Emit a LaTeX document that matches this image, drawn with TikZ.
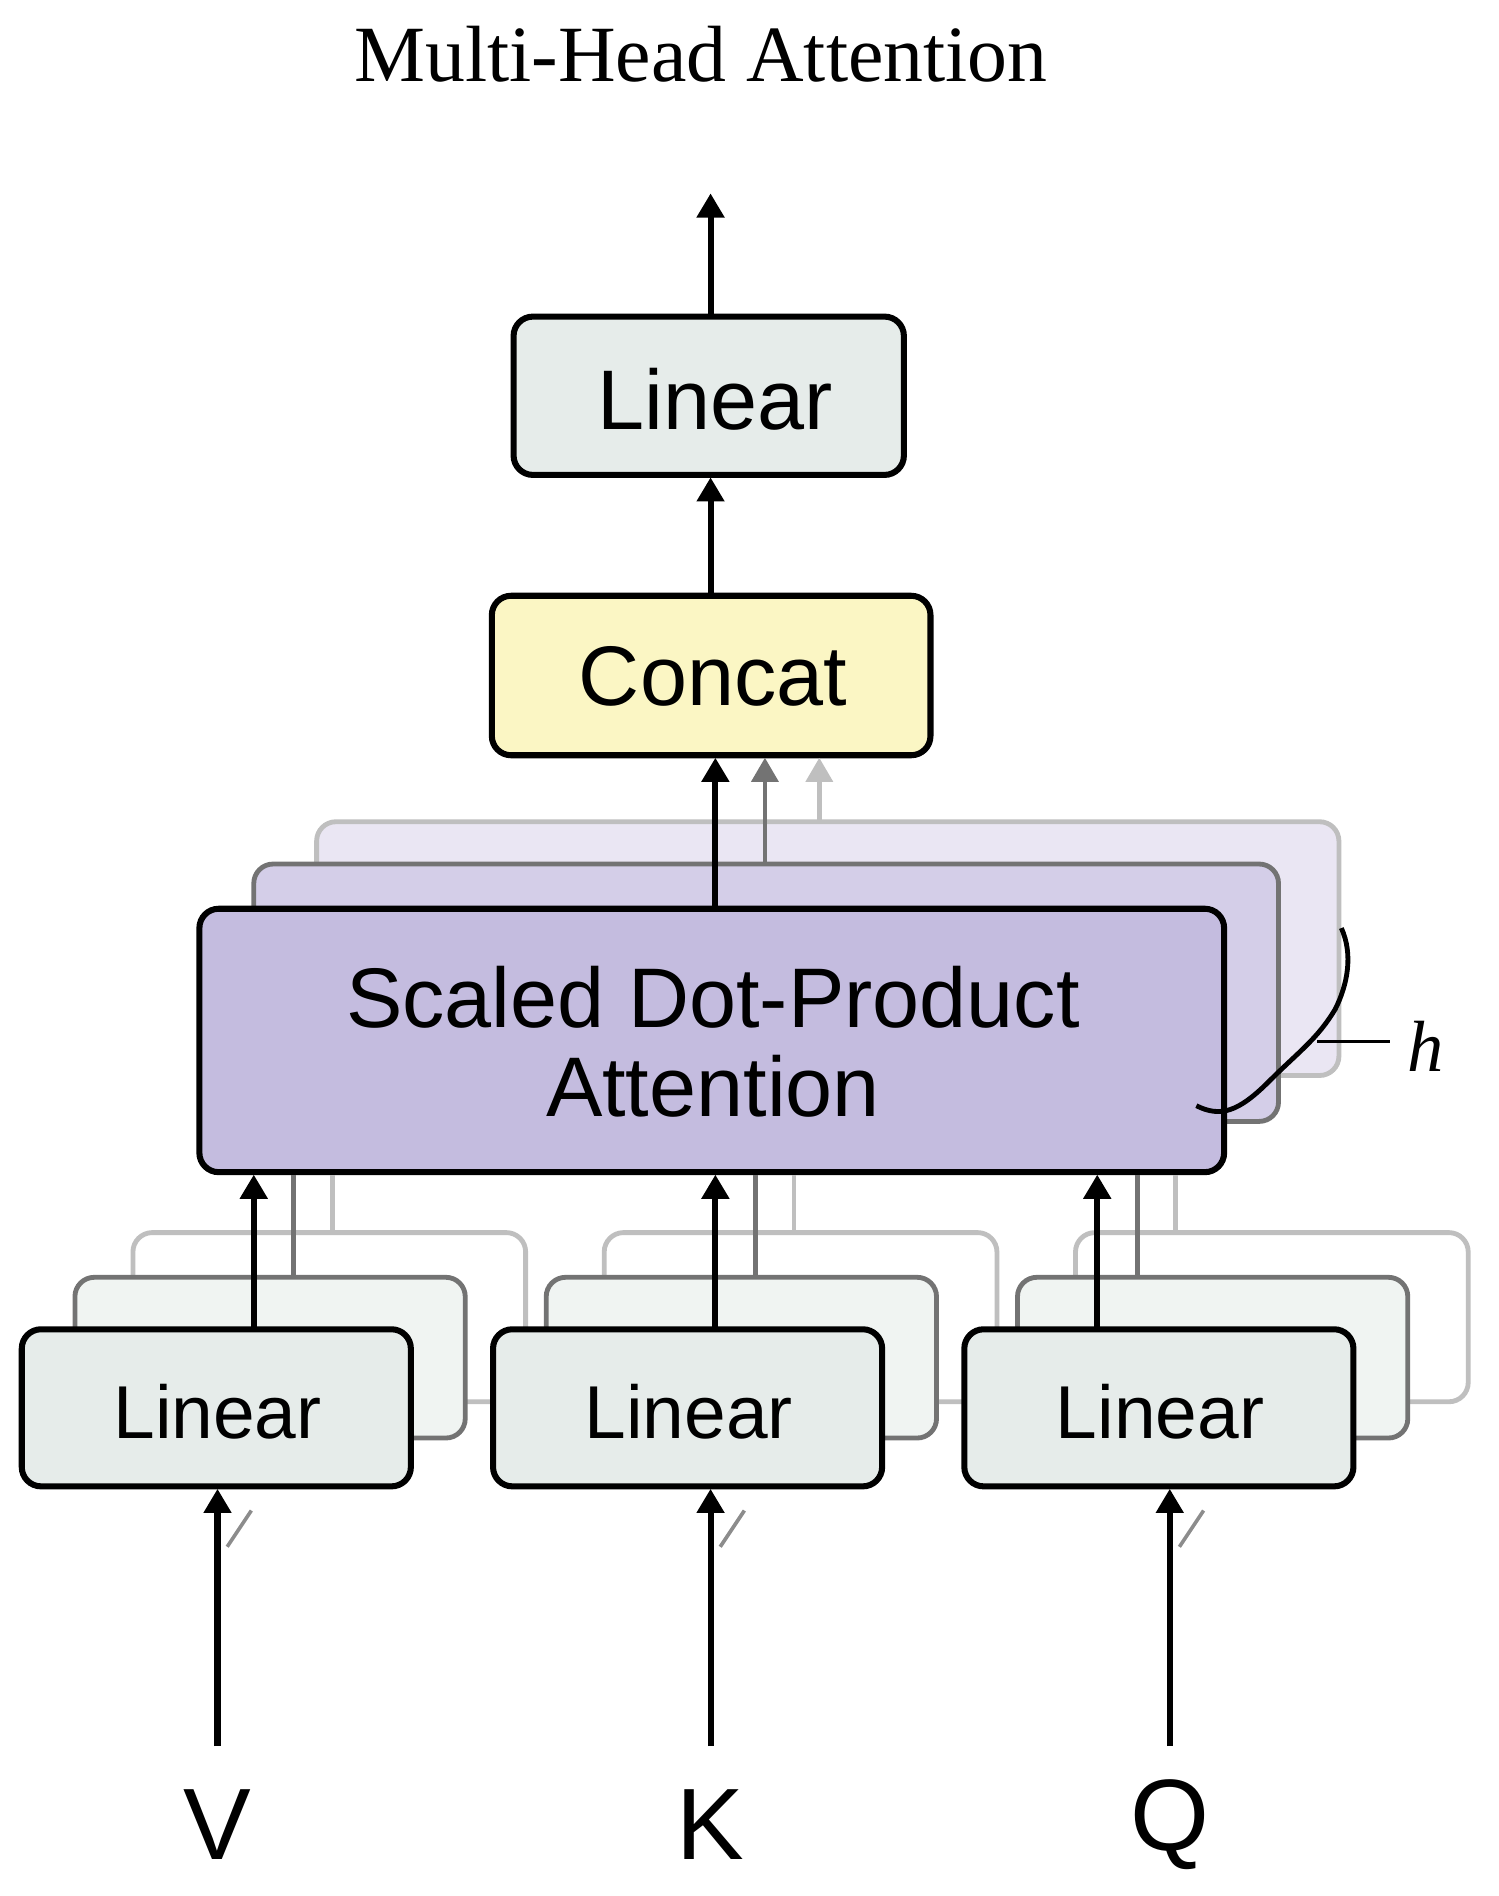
\documentclass[tikz,border=0pt]{standalone}
\usepackage{fontspec}
\setmainfont{Liberation Sans}
\newfontfamily\serifT{Liberation Serif}
\usetikzlibrary{arrows.meta}
\definecolor{lin}{HTML}{E6ECEA}
\definecolor{cat}{HTML}{FBF6C4}
\definecolor{sdp}{HTML}{C4BCDF}
\definecolor{sdpb}{HTML}{D4CEE8}
\begin{document}
\begin{tikzpicture}[x=1pt,y=-1pt,
 box/.style={draw=black,line width=5pt,rounded corners=16pt},
 gbox/.style={draw=black!55,line width=4pt,rounded corners=16pt},
 lbox/.style={draw=black!25,line width=4pt,rounded corners=16pt},
 arr/.style={line width=5pt,-{Triangle[length=20pt,width=22pt]}},
 txt/.style={font=\fontsize{70}{80}\selectfont},
 stxt/.style={font=\fontsize{62}{72}\selectfont}]
\useasboundingbox (0,0) rectangle (1240,1569);
\node[font=\serifT\fontsize{66}{70}\selectfont] (title) at (580,45) {Multi-Head Attention};
% top linear & concat
\draw[box,fill=lin] (425,262) rectangle (748,393);
\node[txt] (lintop) at (592,330) {Linear};
\draw[box,fill=cat] (407,493) rectangle (770,625);
\node[txt] (concat) at (590,560) {Concat};
\coordinate (out) at (588,160);
\draw[arr] (588,262) -- (out);
\draw[arr] (588,493) -- (588,395);
% SDPA stacks
\draw[lbox,fill=sdpb!50] (262,680) rectangle (1108,890);
\draw[gbox,fill=sdpb] (210,715) rectangle (1058,928);
\draw[arr,draw=black!25,line width=4pt] (678,680) -- (678,627);
\draw[arr,draw=black!55,line width=4pt] (633,715) -- (633,627);
\draw[box,fill=sdp] (165,752) rectangle (1013,970);
\node[txt,align=center] (sdpa) at (590,862) {Scaled Dot-Product\\[-6pt]Attention};
\draw[arr] (592,752) -- (592,627);
% brace h
\draw[line width=4pt] (990,915) .. controls (1010,925) and (1025,920) .. (1050,895) .. controls (1075,870) and (1090,860) .. (1105,835) .. controls (1115,815) and (1120,790) .. (1110,768);
\draw[line width=3pt] (1090,862) -- (1150,862);
\node[font=\serifT\itshape\fontsize{60}{60}\selectfont] (h) at (1180,866) {h};
% bottom linears
\foreach \x/\ax/\inx/\lab/\nm in {18/210/180/V/v,408/592/588/K/k,798/908/968/Q/q}{
 \draw[lbox,fill=white] (\x+92,1020) rectangle (\x+417,1160);
 \draw[line width=4pt,draw=black!25] (\ax+65,1020) -- (\ax+65,972);
 \draw[gbox,fill=lin!60] (\x+44,1057) rectangle (\x+367,1190);
 \draw[line width=4pt,draw=black!55] (\ax+33,1057) -- (\ax+33,972);
 \draw[box,fill=lin] (\x,1100) rectangle (\x+322,1230);
 \node[stxt] (lin\nm) at (\x+162,1168) {Linear};
 \draw[arr] (\ax,1100) -- (\ax,972);
 \node[font=\fontsize{84}{90}\selectfont] (in\nm) at (\inx,1510) {\lab};
 \draw[line width=3pt,draw=black!45] (\inx+8,1280) -- (\inx+28,1250);
 \draw[arr] (\inx,1445) -- (\inx,1232);
}
\end{tikzpicture}
\end{document}
